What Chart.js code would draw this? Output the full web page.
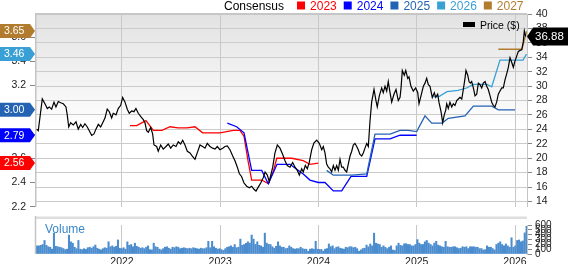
<!DOCTYPE html>
<html>
<head>
<meta charset="utf-8">
<script src="https://cdn.jsdelivr.net/npm/chart.js@4.4.1/dist/chart.umd.min.js"></script>
<style>
html,body{margin:0;padding:0;background:#fff;overflow:hidden;}
#wrap{position:relative;width:568px;height:264px;}
#main{position:absolute;left:0;top:0;}
#vol{position:absolute;left:0;top:216px;}
</style>
</head>
<body>
<div id="wrap">
<canvas id="main" width="568" height="217"></canvas>
<canvas id="vol" width="568" height="50"></canvas>
</div>
<script>
// ---------- DATA ----------
const yearTicks = [2022, 2023, 2024, 2025, 2026];
const priceTicks = [14, 16, 18, 20, 22, 24, 26, 28, 30, 32, 34, 36, 38, 40];
const epsTicks = [2.2, 2.4, 2.6, 2.8, 3.0, 3.2, 3.4, 3.6];
const volTicks = [0, 100, 200, 300, 400, 500, 600];
const seriesNames = ['2023', '2024', '2025', '2026', '2027'];

const priceDates = [2021.132,2021.148,2021.189,2021.216,2021.240,2021.260,2021.284,2021.308,2021.328,2021.352,2021.376,2021.403,2021.430,2021.443,2021.458,2021.478,2021.504,2021.532,2021.555,2021.580,2021.600,2021.623,2021.647,2021.667,2021.692,2021.715,2021.735,2021.759,2021.783,2021.804,2021.827,2021.850,2021.871,2021.895,2021.911,2021.939,2021.962,2021.987,2022.007,2022.031,2022.054,2022.074,2022.099,2022.122,2022.142,2022.166,2022.190,2022.217,2022.234,2022.251,2022.268,2022.292,2022.312,2022.326,2022.353,2022.369,2022.394,2022.420,2022.448,2022.471,2022.496,2022.522,2022.550,2022.573,2022.597,2022.618,2022.641,2022.665,2022.692,2022.716,2022.743,2022.766,2022.794,2022.821,2022.845,2022.868,2022.896,2022.923,2022.947,2022.970,2022.997,2023.025,2023.048,2023.072,2023.099,2023.127,2023.150,2023.174,2023.194,2023.218,2023.242,2023.269,2023.296,2023.320,2023.343,2023.364,2023.387,2023.412,2023.438,2023.456,2023.479,2023.499,2023.534,2023.557,2023.581,2023.608,2023.636,2023.659,2023.682,2023.710,2023.737,2023.761,2023.784,2023.805,2023.829,2023.845,2023.866,2023.886,2023.906,2023.931,2023.954,2023.982,2024.008,2024.033,2024.049,2024.066,2024.083,2024.100,2024.117,2024.134,2024.151,2024.168,2024.185,2024.202,2024.219,2024.236,2024.252,2024.270,2024.287,2024.303,2024.321,2024.338,2024.354,2024.371,2024.389,2024.405,2024.422,2024.440,2024.456,2024.473,2024.491,2024.507,2024.524,2024.541,2024.565,2024.585,2024.598,2024.619,2024.643,2024.659,2024.677,2024.694,2024.710,2024.728,2024.745,2024.768,2024.789,2024.812,2024.830,2024.840,2024.853,2024.873,2024.888,2024.908,2024.921,2024.941,2024.965,2024.989,2025.010,2025.023,2025.043,2025.067,2025.084,2025.101,2025.118,2025.135,2025.158,2025.179,2025.193,2025.213,2025.226,2025.247,2025.264,2025.280,2025.295,2025.305,2025.321,2025.338,2025.356,2025.372,2025.389,2025.407,2025.423,2025.440,2025.458,2025.474,2025.491,2025.501,2025.519,2025.532,2025.545,2025.559,2025.576,2025.593,2025.610,2025.627,2025.644,2025.661,2025.677,2025.695,2025.712,2025.728,2025.746,2025.763,2025.779,2025.796,2025.813,2025.830,2025.847,2025.865,2025.881,2025.898,2025.916,2025.932,2025.949,2025.967,2025.983,2026.000,2026.017,2026.034,2026.051,2026.068,2026.084,2026.095,2026.109];
const priceValues = [24.03,23.81,28.21,27.55,26.89,27.11,26.80,27.77,27.11,27.86,27.69,27.55,27.11,26.01,24.33,24.91,24.60,25.05,24.03,24.69,24.26,24.78,24.33,23.81,23.15,23.37,24.03,24.69,24.33,24.91,25.57,26.80,26.45,25.57,26.23,26.01,26.89,27.33,28.43,27.77,26.80,26.23,26.54,26.45,26.89,26.23,25.79,25.35,24.91,23.81,23.60,24.26,23.37,21.83,21.62,20.96,21.83,21.26,21.62,21.96,21.39,21.83,21.62,22.28,21.96,22.49,21.83,20.96,20.73,20.30,19.85,20.73,21.83,21.62,21.39,22.05,21.62,21.39,21.26,21.62,21.17,21.39,21.62,21.69,21.17,20.30,19.64,18.75,17.87,17.43,16.55,16.11,15.89,16.11,15.68,15.45,15.98,16.55,17.30,18.09,17.66,16.77,18.75,20.73,21.83,21.39,20.51,19.64,18.98,18.75,19.41,18.75,18.32,17.66,18.53,18.09,18.98,18.53,19.41,21.17,22.14,22.49,22.05,21.17,21.62,20.73,19.19,18.75,18.53,18.09,18.98,18.32,18.98,18.32,19.85,18.75,18.75,18.32,18.09,19.19,20.30,20.96,21.83,22.05,21.62,21.17,20.51,20.30,20.73,21.39,22.05,21.62,25.13,27.77,29.53,27.99,27.11,28.65,29.75,29.09,29.97,29.31,30.63,29.09,27.77,28.87,29.53,27.99,28.43,29.75,32.17,31.51,32.17,31.07,31.29,29.97,29.31,29.75,29.09,27.55,28.65,29.97,30.41,31.07,30.19,29.97,28.43,29.09,28.43,28.87,27.77,26.45,24.91,26.01,26.67,27.55,26.89,27.77,27.11,27.55,27.33,27.99,28.21,28.43,28.21,29.53,31.07,32.17,31.51,30.63,30.41,30.63,29.75,28.65,28.87,30.41,30.19,29.75,30.41,30.63,29.97,29.53,28.65,27.77,27.33,27.11,27.77,28.87,29.31,29.75,29.75,30.85,31.73,32.61,33.93,33.27,32.61,33.49,34.15,34.81,34.95,35.02,36.13,37.66,36.88];

const c2023Dates = [2022.081,2022.150,2022.244,2022.319,2022.407,2022.489,2022.570,2022.662,2022.743,2022.821,2022.997,2023.133,2023.201,2023.242,2023.285,2023.320,2023.422,2023.489,2023.540,2023.575,2023.727,2023.845,2023.913,2023.998];
const c2023Values = [2.87,2.87,2.91,2.83,2.83,2.86,2.85,2.85,2.86,2.81,2.81,2.83,2.83,2.78,2.57,2.42,2.42,2.39,2.49,2.60,2.60,2.58,2.55,2.56];
const c2024Dates = [2023.072,2023.167,2023.242,2023.320,2023.422,2023.489,2023.578,2023.710,2023.778,2023.845,2023.913,2023.998,2024.066,2024.151,2024.236,2024.331,2024.491,2024.575,2024.728,2024.830,2024.999];
const c2024Values = [2.89,2.86,2.81,2.50,2.50,2.39,2.55,2.55,2.51,2.47,2.42,2.40,2.40,2.33,2.33,2.45,2.45,2.76,2.76,2.79,2.79];
const c2025Dates = [2024.083,2024.151,2024.338,2024.491,2024.575,2024.728,2024.830,2024.914,2024.999,2025.084,2025.152,2025.257,2025.321,2025.491,2025.576,2025.763,2025.830,2026.000];
const c2025Values = [2.50,2.46,2.46,2.47,2.80,2.80,2.83,2.83,2.82,2.95,2.89,2.89,2.93,2.95,3.03,3.03,3.00,3.00];
const c2026Dates = [2025.168,2025.226,2025.308,2025.420,2025.508,2025.576,2025.715,2025.763,2025.847,2026.041,2026.081,2026.117];
const c2026Values = [3.11,3.11,3.15,3.16,3.18,3.21,3.21,3.19,3.41,3.41,3.41,3.46];
const c2027Dates = [2025.830,2026.071,2026.119];
const c2027Values = [3.50,3.50,3.65];

// weekly volume (thousands), first week starting 2021.135
const volStart = 2021.135;
const volumes = [
168,168,180,196,280,180,150,140,100,430,
160,150,140,130,112,90,100,392,252,224,
140,110,280,100,90,110,95,130,140,120,
150,185,120,100,84,110,130,120,252,150,
168,140,160,291,120,110,130,100,252,180,
196,150,224,160,140,120,130,110,140,168,
90,84,224,150,140,100,84,110,140,150,
120,100,140,130,150,140,110,120,130,120,
110,120,110,130,120,110,100,120,110,110,
130,263,130,263,150,120,100,110,90,73,
110,140,150,168,140,196,130,140,308,180,
196,220,252,224,392,308,200,252,180,168,
140,431,224,200,196,150,120,160,252,168,
140,140,110,120,168,140,112,100,112,110,
140,112,100,100,56,100,110,100,263,100,
95,95,60,100,112,207,150,168,110,140,
150,120,110,100,140,130,150,150,130,140,
110,56,84,112,120,185,150,207,168,431,
224,207,196,140,168,140,110,140,168,84,
73,168,224,180,168,210,213,196,196,168,
168,196,297,224,196,196,252,280,224,196,
168,224,263,185,168,150,140,263,150,140,
140,150,150,130,112,120,150,140,150,112,
150,150,150,140,140,112,112,84,90,168,
140,140,112,84,196,224,252,196,168,207,
168,140,336,140,168,280,290,252,270,437,
570];

// ---------- STYLE ----------
const FONT = '"Liberation Sans", Arial, Helvetica, sans-serif';
const COLORS = {'2023':'#ff0000','2024':'#0000ff','2025':'#2463b4','2026':'#39a0d6','2027':'#b27c2e'};
const X_MIN = 2021.125, X_MAX = 2026.122;

function pts(d, v) { const n = Math.min(d.length, v.length); const a = []; for (let i = 0; i < n; i++) a.push({x: d[i], y: v[i]}); return a; }
const consData = {
  '2023': pts(c2023Dates, c2023Values),
  '2024': pts(c2024Dates, c2024Values),
  '2025': pts(c2025Dates, c2025Values),
  '2026': pts(c2026Dates, c2026Values),
  '2027': pts(c2027Dates, c2027Values)
};
const pricePts = pts(priceDates, priceValues);
const volPts = volumes.map((v, i) => ({x: volStart + i * 7 / 365.25, y: v}));

const bgPlugin = {
  id: 'bg',
  beforeDraw(chart) {
    const {ctx, chartArea: a} = chart;
    const g = ctx.createLinearGradient(0, a.top, 0, a.bottom);
    g.addColorStop(0, '#e2e2e2');
    g.addColorStop(0.6, '#ffffff');
    g.addColorStop(1, '#ffffff');
    ctx.save(); ctx.fillStyle = g; ctx.fillRect(a.left, a.top, a.right - a.left, a.bottom - a.top); ctx.restore();
  }
};

function badgeLeft(ctx, y, color, text) {
  ctx.beginPath();
  ctx.moveTo(0, y - 7); ctx.lineTo(30, y - 7); ctx.lineTo(35, y); ctx.lineTo(30, y + 7); ctx.lineTo(0, y + 7); ctx.closePath();
  ctx.fillStyle = color; ctx.fill();
  ctx.fillStyle = '#fff'; ctx.font = '10.5px ' + FONT; ctx.textBaseline = 'middle'; ctx.textAlign = 'left';
  ctx.fillText(text, 4, y + 0.5);
}

const overlayPlugin = {
  id: 'overlay',
  afterDraw(chart) {
    const {ctx, chartArea: a, scales} = chart;
    ctx.save();
    ctx.strokeStyle = '#c6c6c6'; ctx.lineWidth = 2;
    ctx.beginPath(); ctx.moveTo(a.left - 1, a.top); ctx.lineTo(a.right, a.top); ctx.stroke();
    ctx.font = '12px ' + FONT; ctx.textBaseline = 'alphabetic'; ctx.textAlign = 'left';
    ctx.fillStyle = '#000'; ctx.fillText('Consensus', 224, 10);
    let x = 224 + ctx.measureText('Consensus').width + 13;
    seriesNames.forEach(n => {
      ctx.fillStyle = COLORS[n]; ctx.fillRect(x, 1.5, 8, 8);
      ctx.fillText(n, x + 13, 10);
      x += 13 + ctx.measureText(n).width + 7;
    });
    ctx.fillStyle = '#000'; ctx.fillRect(463, 22, 12, 5);
    ctx.font = '10.5px ' + FONT; ctx.fillText('Price ($)', 480, 29);
    const ye = scales.yEps;
    ['2027', '2026', '2025', '2024', '2023'].forEach(n => {
      const d = consData[n]; const v = d[d.length - 1].y;
      badgeLeft(ctx, ye.getPixelForValue(v), COLORS[n], v.toFixed(2));
    });
    const last = pricePts[pricePts.length - 1].y;
    const py = scales.y.getPixelForValue(last);
    ctx.beginPath();
    ctx.moveTo(a.right, py); ctx.lineTo(a.right + 6, py - 9); ctx.lineTo(568, py - 9); ctx.lineTo(568, py + 9); ctx.lineTo(a.right + 6, py + 9); ctx.closePath();
    ctx.fillStyle = '#000'; ctx.fill();
    ctx.fillStyle = '#fff'; ctx.font = '11.5px ' + FONT; ctx.textBaseline = 'middle';
    ctx.fillText(last.toFixed(2), 535, py + 0.5);
    ctx.restore();
  }
};

const tickFont = {family: FONT, size: 10.5};

const datasets = [{label: 'Price ($)', data: pricePts, yAxisID: 'y', borderColor: '#000', borderWidth: 1.2, pointRadius: 0, tension: 0}];
['2027', '2026', '2025', '2024', '2023'].forEach(n => datasets.push({
  label: n, data: consData[n], yAxisID: 'yEps', borderColor: COLORS[n], borderWidth: 1.3, pointRadius: 0, tension: 0
}));

new Chart(document.getElementById('main'), {
  type: 'line',
  data: {datasets},
  options: {
    responsive: false, animation: false, devicePixelRatio: 1,
    layout: {padding: {top: 14, bottom: 0.5, left: 0, right: 0}},
    plugins: {legend: {display: false}, tooltip: {enabled: false}},
    scales: {
      x: {type: 'linear', min: X_MIN, max: X_MAX,
          afterBuildTicks: s => { s.ticks = yearTicks.map(v => ({value: v})); },
          afterFit: s => { s.height = 0; },
          ticks: {display: false}, grid: {color: '#c8c8c8', drawTicks: false}, border: {display: false}},
      yEps: {type: 'linear', position: 'left', min: 2.2, max: 3.791,
          afterBuildTicks: s => { s.ticks = epsTicks.map(v => ({value: v})); },
          afterFit: s => { s.width = 36; },
          ticks: {font: tickFont, color: '#222', padding: 4, autoSkip: false, callback: v => Number(v).toFixed(1)},
          grid: {drawOnChartArea: false, tickLength: 6, tickColor: '#888'},
          border: {display: true, color: '#c4c4c4', width: 1.5}},
      y: {type: 'linear', position: 'right', min: 13.27, max: 40,
          afterBuildTicks: s => { s.ticks = priceTicks.map(v => ({value: v})); },
          afterFit: s => { s.width = 41; },
          ticks: {font: tickFont, color: '#222', padding: 4, autoSkip: false, callback: v => String(v)},
          grid: {color: '#cbcbcb', tickLength: 5, tickColor: '#888'},
          border: {display: true, color: '#c4c4c4'}}
    }
  },
  plugins: [bgPlugin, overlayPlugin]
});

const volPlugin = {
  id: 'volDeco',
  afterDraw(chart) {
    const {ctx, chartArea: a} = chart;
    ctx.save();
    ctx.fillStyle = '#dedede'; ctx.fillRect(a.left - 1, 0.5, a.right - a.left + 1, 2.5);
    ctx.strokeStyle = '#c4c4c4'; ctx.lineWidth = 1.5;
    ctx.beginPath(); ctx.moveTo(a.left - 0.5, 0); ctx.lineTo(a.left - 0.5, a.bottom); ctx.stroke();
    ctx.font = '12px ' + FONT; ctx.fillStyle = '#3a87c8'; ctx.textBaseline = 'alphabetic'; ctx.textAlign = 'left';
    ctx.fillText('Volume', 45, 16.5);
    ctx.restore();
  }
};

new Chart(document.getElementById('vol'), {
  type: 'bar',
  data: {datasets: [{data: volPts, backgroundColor: '#4a8cce', borderWidth: 0, barThickness: 1.4, grouped: false}]},
  options: {
    responsive: false, animation: false, devicePixelRatio: 1,
    layout: {padding: {top: 2, left: 36, right: 0, bottom: 0}},
    plugins: {legend: {display: false}, tooltip: {enabled: false}},
    scales: {
      x: {type: 'linear', min: X_MIN, max: X_MAX, offset: false,
          afterBuildTicks: s => { s.ticks = yearTicks.map(v => ({value: v})); },
          afterFit: s => { s.height = 12; },
          ticks: {font: tickFont, color: '#222', padding: 2, autoSkip: false, maxRotation: 0, callback: v => String(v)},
          grid: {color: '#c8c8c8', drawTicks: false, offset: false}, border: {display: false}},
      y: {type: 'linear', position: 'right', min: 0, max: 600,
          afterBuildTicks: s => { s.ticks = volTicks.map(v => ({value: v})); },
          afterFit: s => { s.width = 41; },
          ticks: {font: {family: FONT, size: 10}, color: '#222', padding: 3, autoSkip: false, callback: v => String(v)},
          grid: {drawOnChartArea: false, tickLength: 5, tickColor: '#888'},
          border: {display: true, color: '#c4c4c4'}}
    }
  },
  plugins: [volPlugin]
});
</script>
</body>
</html>
